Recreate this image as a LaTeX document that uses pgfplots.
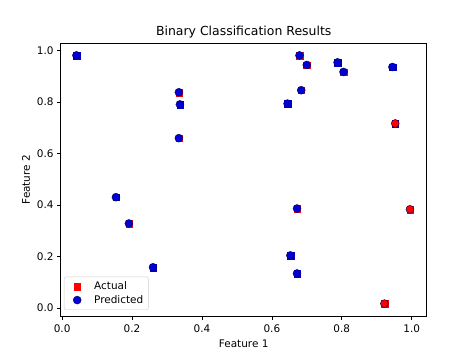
\documentclass[border=0pt]{standalone}
\usepackage{pgfplots}
\pgfplotsset{compat=1.18}
\usepackage{fontspec}
\setmainfont{DejaVu Sans}
\definecolor{mblue}{RGB}{0,0,215}
\definecolor{mred}{RGB}{255,0,0}
\definecolor{legedge}{RGB}{204,204,204}

\begin{document}
\begin{tikzpicture}
\useasboundingbox (-60.7bp,-39bp) rectangle (413.3bp,316bp);
\begin{axis}[
  scale only axis,
  width=366bp, height=272.7bp,
  at={(0,0)}, anchor=south west,
  xmin=-0.004, xmax=1.043, ymin=-0.031, ymax=1.027,
  xtick={0,0.2,0.4,0.6,0.8,1.0},
  ytick={0,0.2,0.4,0.6,0.8,1.0},
  /pgf/number format/.cd, fixed, fixed zerofill, precision=1, assume math mode=true,
  /pgfplots/.cd,
  tick align=outside, tick pos=left,
  major tick length=3.6bp,
  every tick/.style={black, line width=0.6pt},
  axis line style={black, line width=0.6pt},
  tick label style={font=\fontsize{10.5}{12}\selectfont},
  xticklabel style={yshift=-1.5bp},
  label style={font=\fontsize{10.5}{12}\selectfont},
  title style={font=\fontsize{12.5}{14}\selectfont, at={(0.5,1)}, anchor=south, yshift=-4bp},
  title={Binary Classification Results},
  xlabel={Feature 1}, ylabel={Feature 2},
  xlabel style={yshift=-1bp},
  ylabel style={yshift=0bp},
  legend style={at={(0.009,0.022)}, anchor=south west, draw=legedge, rounded corners=2pt,
    font=\fontsize{10.5}{12}\selectfont, inner sep=3bp, row sep=0pt,
    nodes={inner sep=2bp}},
  legend cell align=left,
  legend image code/.code={\path[draw=none, fill=none] (0bp,-4bp) rectangle (25bp,4bp); \path[#1] plot coordinates {(10bp,0bp)};},
]
% Actual (red squares)
\addplot[only marks, color=mred, mark=square*, mark size=3.3bp, mark options={draw=mred, line width=0.1pt, fill=mred}] coordinates {
  (0.334,0.837) (0.334,0.659) (0.191,0.328) (0.679,0.980) (0.700,0.943)
  (0.805,0.916) (0.684,0.845) (0.672,0.386) (0.995,0.383) (0.922,0.017)
};
\addlegendentry{Actual}
% Actual (blue squares)
\addplot[only marks, color=mblue, mark=square*, mark size=3.3bp, mark options={draw=mblue, line width=0.1pt, fill=mblue}, forget plot] coordinates {
  (0.041,0.980) (0.337,0.790) (0.154,0.430) (0.260,0.158) (0.788,0.953)
  (0.945,0.935) (0.645,0.793) (0.953,0.716) (0.653,0.204) (0.672,0.134)
};
% Predicted (blue circles)
\addplot[only marks, mark=*, mark size=4bp, mark options={draw=black!70!blue, line width=0.4pt, fill=mblue}] coordinates {
  (0.041,0.980) (0.334,0.837) (0.337,0.790) (0.334,0.659) (0.154,0.430)
  (0.191,0.328) (0.260,0.158) (0.679,0.980) (0.700,0.943) (0.788,0.953)
  (0.805,0.916) (0.945,0.935) (0.684,0.845) (0.645,0.793) (0.672,0.386)
  (0.653,0.204) (0.672,0.134)
};
\addlegendentry{Predicted}
% Predicted (red circles)
\addplot[only marks, mark=*, mark size=4bp, mark options={draw=black!70!blue, line width=0.4pt, fill=mred}, forget plot] coordinates {
  (0.953,0.716) (0.995,0.383) (0.922,0.017)
};
\end{axis}
\end{tikzpicture}
\end{document}
